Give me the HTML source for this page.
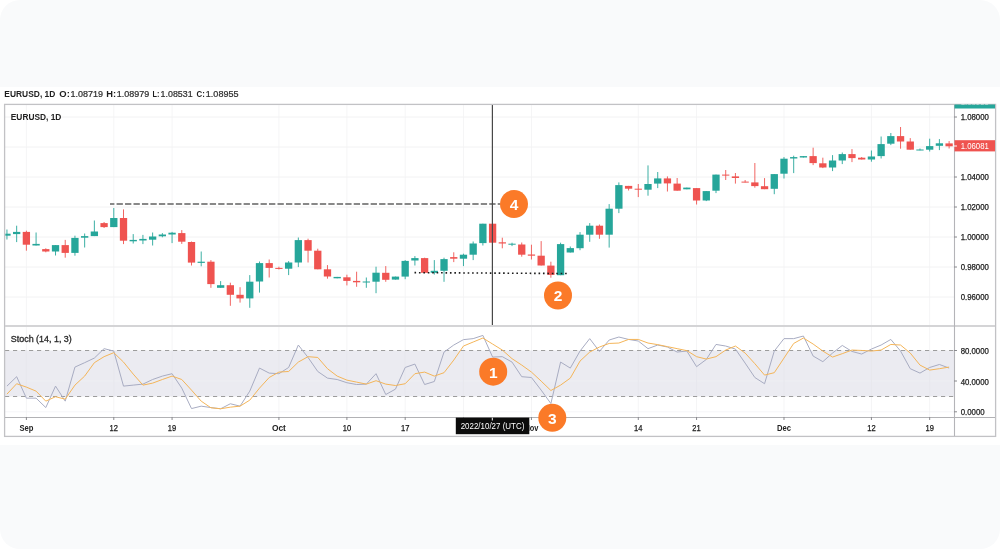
<!DOCTYPE html>
<html><head><meta charset="utf-8"><title>EURUSD Stochastic</title>
<style>
html,body{margin:0;padding:0;background:#fff;}
body{width:1000px;height:549px;overflow:hidden;font-family:"Liberation Sans",sans-serif;}
#bg{position:absolute;left:0;top:0;width:1000px;height:549px;background:#f9fafb;border-radius:20px;}
#band{position:absolute;left:0;top:87px;width:1000px;height:358px;background:#fff;}
svg{position:absolute;left:0;top:0;will-change:transform;}
svg text{font-family:"Liberation Sans",sans-serif;}
</style></head>
<body>
<div id="bg"></div>
<div id="band"></div>
<svg width="1000" height="549" viewBox="0 0 1000 549">
<line x1="26.38" y1="105" x2="26.38" y2="417" stroke="#f5f5f6" stroke-width="1"/>
<line x1="113.79" y1="105" x2="113.79" y2="417" stroke="#f5f5f6" stroke-width="1"/>
<line x1="172.07" y1="105" x2="172.07" y2="417" stroke="#f5f5f6" stroke-width="1"/>
<line x1="278.91" y1="105" x2="278.91" y2="417" stroke="#f5f5f6" stroke-width="1"/>
<line x1="346.90" y1="105" x2="346.90" y2="417" stroke="#f5f5f6" stroke-width="1"/>
<line x1="405.18" y1="105" x2="405.18" y2="417" stroke="#f5f5f6" stroke-width="1"/>
<line x1="463.46" y1="105" x2="463.46" y2="417" stroke="#f5f5f6" stroke-width="1"/>
<line x1="531.45" y1="105" x2="531.45" y2="417" stroke="#f5f5f6" stroke-width="1"/>
<line x1="638.29" y1="105" x2="638.29" y2="417" stroke="#f5f5f6" stroke-width="1"/>
<line x1="696.57" y1="105" x2="696.57" y2="417" stroke="#f5f5f6" stroke-width="1"/>
<line x1="783.99" y1="105" x2="783.99" y2="417" stroke="#f5f5f6" stroke-width="1"/>
<line x1="871.41" y1="105" x2="871.41" y2="417" stroke="#f5f5f6" stroke-width="1"/>
<line x1="929.68" y1="105" x2="929.68" y2="417" stroke="#f5f5f6" stroke-width="1"/>
<line x1="5" y1="117" x2="954" y2="117" stroke="#f2f2f3" stroke-width="1"/>
<line x1="5" y1="147" x2="954" y2="147" stroke="#f2f2f3" stroke-width="1"/>
<line x1="5" y1="177" x2="954" y2="177" stroke="#f2f2f3" stroke-width="1"/>
<line x1="5" y1="207" x2="954" y2="207" stroke="#f2f2f3" stroke-width="1"/>
<line x1="5" y1="237" x2="954" y2="237" stroke="#f2f2f3" stroke-width="1"/>
<line x1="5" y1="267" x2="954" y2="267" stroke="#f2f2f3" stroke-width="1"/>
<line x1="5" y1="297" x2="954" y2="297" stroke="#f2f2f3" stroke-width="1"/>
<rect x="5" y="350.5" width="949" height="46.0" fill="#ebebf1"/>
<line x1="5" y1="381" x2="954" y2="381" stroke="#f0f1f4" stroke-width="1" opacity="0.7"/>
<line x1="5" y1="411.8" x2="954" y2="411.8" stroke="#f0f1f4" stroke-width="1" opacity="0.7"/>
<line x1="26.38" y1="350.5" x2="26.38" y2="396.5" stroke="#e7e7ed" stroke-width="1"/>
<line x1="113.79" y1="350.5" x2="113.79" y2="396.5" stroke="#e7e7ed" stroke-width="1"/>
<line x1="172.07" y1="350.5" x2="172.07" y2="396.5" stroke="#e7e7ed" stroke-width="1"/>
<line x1="278.91" y1="350.5" x2="278.91" y2="396.5" stroke="#e7e7ed" stroke-width="1"/>
<line x1="346.90" y1="350.5" x2="346.90" y2="396.5" stroke="#e7e7ed" stroke-width="1"/>
<line x1="405.18" y1="350.5" x2="405.18" y2="396.5" stroke="#e7e7ed" stroke-width="1"/>
<line x1="463.46" y1="350.5" x2="463.46" y2="396.5" stroke="#e7e7ed" stroke-width="1"/>
<line x1="531.45" y1="350.5" x2="531.45" y2="396.5" stroke="#e7e7ed" stroke-width="1"/>
<line x1="638.29" y1="350.5" x2="638.29" y2="396.5" stroke="#e7e7ed" stroke-width="1"/>
<line x1="696.57" y1="350.5" x2="696.57" y2="396.5" stroke="#e7e7ed" stroke-width="1"/>
<line x1="783.99" y1="350.5" x2="783.99" y2="396.5" stroke="#e7e7ed" stroke-width="1"/>
<line x1="871.41" y1="350.5" x2="871.41" y2="396.5" stroke="#e7e7ed" stroke-width="1"/>
<line x1="929.68" y1="350.5" x2="929.68" y2="396.5" stroke="#e7e7ed" stroke-width="1"/>
<line x1="5" y1="350.5" x2="954" y2="350.5" stroke="#9c9c9c" stroke-width="1" stroke-dasharray="4.2,3.8"/>
<line x1="5" y1="396.5" x2="954" y2="396.5" stroke="#9c9c9c" stroke-width="1" stroke-dasharray="4.2,3.8"/>
<polyline points="6.95,386.12 16.66,376.70 26.38,398.15 36.09,398.15 45.80,407.57 55.52,386.12 65.23,401.15 74.94,367.08 84.65,362.68 94.37,358.07 104.08,348.65 113.79,351.05 123.51,386.12 133.22,385.12 142.93,384.12 152.64,379.51 162.36,376.10 172.07,373.70 181.78,388.13 191.50,408.57 201.21,406.16 210.92,407.57 220.64,408.77 230.35,403.76 240.06,406.16 249.77,391.13 259.49,368.09 269.20,373.10 278.91,373.70 288.63,367.48 298.34,345.04 308.05,357.46 317.77,371.49 327.48,378.11 337.19,379.51 346.90,382.72 356.62,384.52 366.33,384.12 376.04,373.70 385.76,394.54 395.47,389.13 405.18,367.48 414.90,364.08 424.61,384.52 434.32,381.51 444.03,352.05 453.75,345.04 463.46,339.63 473.17,338.63 482.89,335.42 492.60,357.06 502.31,356.66 512.03,362.07 521.74,376.70 531.45,377.51 541.16,390.13 550.88,403.56 560.59,362.07 570.30,368.09 580.02,351.05 589.73,338.63 599.44,351.45 609.16,340.03 618.87,337.02 628.58,339.43 638.29,341.03 648.01,348.65 657.72,345.04 667.43,347.04 677.15,352.05 686.86,351.05 696.57,366.68 706.29,359.47 716.00,344.44 725.71,346.04 735.42,349.05 745.14,363.08 754.85,377.51 764.56,383.72 774.28,351.05 783.99,338.63 793.70,338.63 803.42,336.02 813.13,356.06 822.84,361.67 832.55,353.06 842.27,345.44 851.98,351.45 861.69,354.06 871.41,349.05 881.12,345.04 890.83,339.43 900.55,351.05 910.26,368.69 919.97,373.10 929.68,367.48 939.40,364.48 949.11,368.09" fill="none" stroke="#a8acc2" stroke-width="1" stroke-linejoin="round"/>
<polyline points="6.95,394.14 16.66,383.72 26.38,387.12 36.09,391.13 45.80,401.15 55.52,396.74 65.23,399.15 74.94,385.12 84.65,376.10 94.37,362.68 104.08,356.66 113.79,352.66 123.51,362.07 133.22,374.10 142.93,385.12 152.64,383.12 162.36,379.51 172.07,376.10 181.78,379.51 191.50,390.13 201.21,401.15 210.92,407.77 220.64,408.77 230.35,407.16 240.06,406.16 249.77,400.15 259.49,388.13 269.20,377.51 278.91,372.09 288.63,371.49 298.34,362.07 308.05,356.66 317.77,357.46 327.48,368.69 337.19,376.10 346.90,380.11 356.62,382.11 366.33,384.12 376.04,380.71 385.76,384.12 395.47,385.52 405.18,383.72 414.90,373.70 424.61,372.09 434.32,376.10 444.03,372.70 453.75,360.07 463.46,346.04 473.17,342.03 482.89,338.03 492.60,344.04 502.31,350.05 512.03,358.67 521.74,365.08 531.45,372.09 541.16,381.11 550.88,390.53 560.59,385.12 570.30,378.11 580.02,361.07 589.73,352.05 599.44,347.04 609.16,343.44 618.87,343.04 628.58,339.43 638.29,339.43 648.01,343.04 657.72,344.64 667.43,346.64 677.15,348.65 686.86,350.65 696.57,356.66 706.29,359.07 716.00,356.66 725.71,350.05 735.42,346.04 745.14,353.06 754.85,363.68 764.56,375.10 774.28,372.70 783.99,358.07 793.70,343.44 803.42,338.03 813.13,344.04 822.84,351.05 832.55,357.06 842.27,353.66 851.98,350.05 861.69,350.45 871.41,351.05 881.12,350.05 890.83,344.44 900.55,345.04 910.26,353.06 919.97,365.08 929.68,370.09 939.40,368.69 949.11,367.08" fill="none" stroke="#f4b559" stroke-width="1" stroke-linejoin="round"/>
<clipPath id="cc"><rect x="5.2" y="105" width="949" height="220"/></clipPath><g clip-path="url(#cc)">
<line x1="6.95" y1="229.5" x2="6.95" y2="239.5" stroke="#26a69a" stroke-width="0.9"/>
<rect x="3.30" y="233.7" width="7.3" height="2.0" fill="#26a69a"/>
<line x1="16.66" y1="225.7" x2="16.66" y2="242.1" stroke="#26a69a" stroke-width="0.9"/>
<rect x="13.01" y="231.9" width="7.3" height="2.2" fill="#26a69a"/>
<line x1="26.38" y1="230.7" x2="26.38" y2="250.7" stroke="#ef5350" stroke-width="0.9"/>
<rect x="22.73" y="231.9" width="7.3" height="12.8" fill="#ef5350"/>
<line x1="36.09" y1="232.5" x2="36.09" y2="245.5" stroke="#26a69a" stroke-width="0.9"/>
<rect x="32.44" y="243.9" width="7.3" height="1.6" fill="#26a69a"/>
<line x1="45.80" y1="248.3" x2="45.80" y2="252.3" stroke="#ef5350" stroke-width="0.9"/>
<rect x="42.15" y="249.1" width="7.3" height="2.4" fill="#ef5350"/>
<line x1="55.52" y1="245.1" x2="55.52" y2="255.5" stroke="#26a69a" stroke-width="0.9"/>
<rect x="51.87" y="245.1" width="7.3" height="6.4" fill="#26a69a"/>
<line x1="65.23" y1="239.9" x2="65.23" y2="257.7" stroke="#ef5350" stroke-width="0.9"/>
<rect x="61.58" y="245.1" width="7.3" height="7.8" fill="#ef5350"/>
<line x1="74.94" y1="235.7" x2="74.94" y2="255.7" stroke="#26a69a" stroke-width="0.9"/>
<rect x="71.29" y="237.9" width="7.3" height="15.0" fill="#26a69a"/>
<line x1="84.65" y1="233.5" x2="84.65" y2="247.5" stroke="#26a69a" stroke-width="0.9"/>
<rect x="81.00" y="236.1" width="7.3" height="1.6" fill="#26a69a"/>
<line x1="94.37" y1="220.5" x2="94.37" y2="236.1" stroke="#26a69a" stroke-width="0.9"/>
<rect x="90.72" y="231.5" width="7.3" height="4.6" fill="#26a69a"/>
<line x1="104.08" y1="222" x2="104.08" y2="228" stroke="#ef5350" stroke-width="0.9"/>
<rect x="100.43" y="223.1" width="7.3" height="4.0" fill="#ef5350"/>
<line x1="113.79" y1="208" x2="113.79" y2="227.1" stroke="#26a69a" stroke-width="0.9"/>
<rect x="110.14" y="218" width="7.3" height="9.1" fill="#26a69a"/>
<line x1="123.51" y1="209.4" x2="123.51" y2="244.1" stroke="#ef5350" stroke-width="0.9"/>
<rect x="119.86" y="218" width="7.3" height="22.7" fill="#ef5350"/>
<line x1="133.22" y1="234.1" x2="133.22" y2="243.5" stroke="#26a69a" stroke-width="0.9"/>
<rect x="129.57" y="239.9" width="7.3" height="1.4" fill="#26a69a"/>
<line x1="142.93" y1="234.9" x2="142.93" y2="244.1" stroke="#26a69a" stroke-width="0.9"/>
<rect x="139.28" y="238.9" width="7.3" height="1.6" fill="#26a69a"/>
<line x1="152.64" y1="232.5" x2="152.64" y2="245.5" stroke="#26a69a" stroke-width="0.9"/>
<rect x="148.99" y="236.5" width="7.3" height="3.2" fill="#26a69a"/>
<line x1="162.36" y1="233.1" x2="162.36" y2="237.3" stroke="#26a69a" stroke-width="0.9"/>
<rect x="158.71" y="234.5" width="7.3" height="1.8" fill="#26a69a"/>
<line x1="172.07" y1="231.9" x2="172.07" y2="243.1" stroke="#26a69a" stroke-width="0.9"/>
<rect x="168.42" y="232.7" width="7.3" height="1.8" fill="#26a69a"/>
<line x1="181.78" y1="230.1" x2="181.78" y2="243.9" stroke="#ef5350" stroke-width="0.9"/>
<rect x="178.13" y="233.1" width="7.3" height="8.6" fill="#ef5350"/>
<line x1="191.50" y1="241.5" x2="191.50" y2="265.5" stroke="#ef5350" stroke-width="0.9"/>
<rect x="187.85" y="242.0" width="7.3" height="20.6" fill="#ef5350"/>
<line x1="201.21" y1="251.5" x2="201.21" y2="266.3" stroke="#26a69a" stroke-width="0.9"/>
<rect x="197.56" y="261.7" width="7.3" height="1.2" fill="#26a69a"/>
<line x1="210.92" y1="260.1" x2="210.92" y2="287.8" stroke="#ef5350" stroke-width="0.9"/>
<rect x="207.27" y="261.7" width="7.3" height="22.4" fill="#ef5350"/>
<line x1="220.64" y1="281.1" x2="220.64" y2="287.8" stroke="#26a69a" stroke-width="0.9"/>
<rect x="216.99" y="285.2" width="7.3" height="2.6" fill="#26a69a"/>
<line x1="230.35" y1="282.7" x2="230.35" y2="305.8" stroke="#ef5350" stroke-width="0.9"/>
<rect x="226.70" y="285.2" width="7.3" height="9.6" fill="#ef5350"/>
<line x1="240.06" y1="287.2" x2="240.06" y2="302.6" stroke="#ef5350" stroke-width="0.9"/>
<rect x="236.41" y="294.8" width="7.3" height="3.6" fill="#ef5350"/>
<line x1="249.77" y1="275.1" x2="249.77" y2="307.8" stroke="#26a69a" stroke-width="0.9"/>
<rect x="246.12" y="281.7" width="7.3" height="16.7" fill="#26a69a"/>
<line x1="259.49" y1="261.5" x2="259.49" y2="292.6" stroke="#26a69a" stroke-width="0.9"/>
<rect x="255.84" y="263.1" width="7.3" height="18.4" fill="#26a69a"/>
<line x1="269.20" y1="259.5" x2="269.20" y2="277.5" stroke="#ef5350" stroke-width="0.9"/>
<rect x="265.55" y="263.1" width="7.3" height="4.8" fill="#ef5350"/>
<line x1="278.91" y1="266.7" x2="278.91" y2="269.5" stroke="#ef5350" stroke-width="0.9"/>
<rect x="275.26" y="267.9" width="7.3" height="1.0" fill="#ef5350"/>
<line x1="288.63" y1="261.1" x2="288.63" y2="275.1" stroke="#26a69a" stroke-width="0.9"/>
<rect x="284.98" y="262.5" width="7.3" height="6.2" fill="#26a69a"/>
<line x1="298.34" y1="237.5" x2="298.34" y2="267.1" stroke="#26a69a" stroke-width="0.9"/>
<rect x="294.69" y="240.1" width="7.3" height="22.4" fill="#26a69a"/>
<line x1="308.05" y1="238.7" x2="308.05" y2="262.5" stroke="#ef5350" stroke-width="0.9"/>
<rect x="304.40" y="240.1" width="7.3" height="10.6" fill="#ef5350"/>
<line x1="317.77" y1="248.7" x2="317.77" y2="269.3" stroke="#ef5350" stroke-width="0.9"/>
<rect x="314.12" y="250.7" width="7.3" height="18.6" fill="#ef5350"/>
<line x1="327.48" y1="265.1" x2="327.48" y2="278.7" stroke="#ef5350" stroke-width="0.9"/>
<rect x="323.83" y="269.3" width="7.3" height="7.2" fill="#ef5350"/>
<line x1="337.19" y1="276.9" x2="337.19" y2="278.3" stroke="#26a69a" stroke-width="0.9"/>
<rect x="333.54" y="276.9" width="7.3" height="1.4" fill="#26a69a"/>
<line x1="346.90" y1="274.7" x2="346.90" y2="285.4" stroke="#ef5350" stroke-width="0.9"/>
<rect x="343.25" y="277.3" width="7.3" height="3.6" fill="#ef5350"/>
<line x1="356.62" y1="271.7" x2="356.62" y2="286.8" stroke="#ef5350" stroke-width="0.9"/>
<rect x="352.97" y="280.9" width="7.3" height="1.4" fill="#ef5350"/>
<line x1="366.33" y1="277.5" x2="366.33" y2="287.8" stroke="#26a69a" stroke-width="0.9"/>
<rect x="362.68" y="281.5" width="7.3" height="1.0" fill="#26a69a"/>
<line x1="376.04" y1="266.7" x2="376.04" y2="293.2" stroke="#26a69a" stroke-width="0.9"/>
<rect x="372.39" y="272.7" width="7.3" height="9.0" fill="#26a69a"/>
<line x1="385.76" y1="266.1" x2="385.76" y2="281.8" stroke="#ef5350" stroke-width="0.9"/>
<rect x="382.11" y="272.8" width="7.3" height="7.0" fill="#ef5350"/>
<line x1="395.47" y1="276.6" x2="395.47" y2="279.6" stroke="#26a69a" stroke-width="0.9"/>
<rect x="391.82" y="276.6" width="7.3" height="3.0" fill="#26a69a"/>
<line x1="405.18" y1="260.1" x2="405.18" y2="279.2" stroke="#26a69a" stroke-width="0.9"/>
<rect x="401.53" y="260.9" width="7.3" height="15.7" fill="#26a69a"/>
<line x1="414.90" y1="256.1" x2="414.90" y2="265.5" stroke="#26a69a" stroke-width="0.9"/>
<rect x="411.25" y="258.1" width="7.3" height="2.4" fill="#26a69a"/>
<line x1="424.61" y1="257.7" x2="424.61" y2="273.2" stroke="#ef5350" stroke-width="0.9"/>
<rect x="420.96" y="258.1" width="7.3" height="14.7" fill="#ef5350"/>
<line x1="434.32" y1="260.1" x2="434.32" y2="274.6" stroke="#26a69a" stroke-width="0.9"/>
<rect x="430.67" y="270.8" width="7.3" height="2.0" fill="#26a69a"/>
<line x1="444.03" y1="257.7" x2="444.03" y2="281.8" stroke="#26a69a" stroke-width="0.9"/>
<rect x="440.38" y="259.1" width="7.3" height="11.7" fill="#26a69a"/>
<line x1="453.75" y1="252.3" x2="453.75" y2="262.1" stroke="#ef5350" stroke-width="0.9"/>
<rect x="450.10" y="257.1" width="7.3" height="1.6" fill="#ef5350"/>
<line x1="463.46" y1="253.7" x2="463.46" y2="266.1" stroke="#26a69a" stroke-width="0.9"/>
<rect x="459.81" y="254.7" width="7.3" height="4.0" fill="#26a69a"/>
<line x1="473.17" y1="241.5" x2="473.17" y2="260.1" stroke="#26a69a" stroke-width="0.9"/>
<rect x="469.52" y="243.5" width="7.3" height="11.2" fill="#26a69a"/>
<line x1="482.89" y1="223.7" x2="482.89" y2="245.5" stroke="#26a69a" stroke-width="0.9"/>
<rect x="479.24" y="223.7" width="7.3" height="19.4" fill="#26a69a"/>
<line x1="492.60" y1="223.7" x2="492.60" y2="243.1" stroke="#ef5350" stroke-width="0.9"/>
<rect x="488.95" y="223.7" width="7.3" height="19.0" fill="#ef5350"/>
<line x1="502.31" y1="237.7" x2="502.31" y2="248.3" stroke="#ef5350" stroke-width="0.9"/>
<rect x="498.66" y="242.3" width="7.3" height="1.2" fill="#ef5350"/>
<line x1="512.03" y1="242.7" x2="512.03" y2="246.1" stroke="#26a69a" stroke-width="0.9"/>
<rect x="508.38" y="243.7" width="7.3" height="1.0" fill="#26a69a"/>
<line x1="521.74" y1="242.5" x2="521.74" y2="256.7" stroke="#ef5350" stroke-width="0.9"/>
<rect x="518.09" y="244.5" width="7.3" height="10.2" fill="#ef5350"/>
<line x1="531.45" y1="244.7" x2="531.45" y2="259.5" stroke="#ef5350" stroke-width="0.9"/>
<rect x="527.80" y="254.5" width="7.3" height="1.2" fill="#ef5350"/>
<line x1="541.16" y1="241.1" x2="541.16" y2="265.5" stroke="#ef5350" stroke-width="0.9"/>
<rect x="537.51" y="255.7" width="7.3" height="9.8" fill="#ef5350"/>
<line x1="550.88" y1="261.7" x2="550.88" y2="277.7" stroke="#ef5350" stroke-width="0.9"/>
<rect x="547.23" y="265.6" width="7.3" height="9.3" fill="#ef5350"/>
<line x1="560.59" y1="242.7" x2="560.59" y2="275.2" stroke="#26a69a" stroke-width="0.9"/>
<rect x="556.94" y="244.1" width="7.3" height="31.1" fill="#26a69a"/>
<line x1="570.30" y1="246.5" x2="570.30" y2="252.5" stroke="#26a69a" stroke-width="0.9"/>
<rect x="566.65" y="248.1" width="7.3" height="4.4" fill="#26a69a"/>
<line x1="580.02" y1="232.1" x2="580.02" y2="250.2" stroke="#26a69a" stroke-width="0.9"/>
<rect x="576.37" y="234.7" width="7.3" height="13.5" fill="#26a69a"/>
<line x1="589.73" y1="223.1" x2="589.73" y2="241.8" stroke="#26a69a" stroke-width="0.9"/>
<rect x="586.08" y="225.7" width="7.3" height="9.0" fill="#26a69a"/>
<line x1="599.44" y1="224.5" x2="599.44" y2="238.8" stroke="#ef5350" stroke-width="0.9"/>
<rect x="595.79" y="225.7" width="7.3" height="9.0" fill="#ef5350"/>
<line x1="609.16" y1="204.1" x2="609.16" y2="247.6" stroke="#26a69a" stroke-width="0.9"/>
<rect x="605.51" y="208.7" width="7.3" height="26.0" fill="#26a69a"/>
<line x1="618.87" y1="182.4" x2="618.87" y2="213.1" stroke="#26a69a" stroke-width="0.9"/>
<rect x="615.22" y="185.1" width="7.3" height="23.6" fill="#26a69a"/>
<line x1="628.58" y1="185.9" x2="628.58" y2="190.5" stroke="#ef5350" stroke-width="0.9"/>
<rect x="624.93" y="185.9" width="7.3" height="2.8" fill="#ef5350"/>
<line x1="638.29" y1="184" x2="638.29" y2="197.1" stroke="#ef5350" stroke-width="0.9"/>
<rect x="634.64" y="188.7" width="7.3" height="1.0" fill="#ef5350"/>
<line x1="648.01" y1="165.4" x2="648.01" y2="195.7" stroke="#26a69a" stroke-width="0.9"/>
<rect x="644.36" y="184" width="7.3" height="5.7" fill="#26a69a"/>
<line x1="657.72" y1="172" x2="657.72" y2="188.1" stroke="#26a69a" stroke-width="0.9"/>
<rect x="654.07" y="178.4" width="7.3" height="5.2" fill="#26a69a"/>
<line x1="667.43" y1="176.4" x2="667.43" y2="191.5" stroke="#ef5350" stroke-width="0.9"/>
<rect x="663.78" y="178.4" width="7.3" height="5.0" fill="#ef5350"/>
<line x1="677.15" y1="178" x2="677.15" y2="190.7" stroke="#ef5350" stroke-width="0.9"/>
<rect x="673.50" y="183.6" width="7.3" height="7.1" fill="#ef5350"/>
<line x1="686.86" y1="187.6" x2="686.86" y2="189.3" stroke="#26a69a" stroke-width="0.9"/>
<rect x="683.21" y="187.6" width="7.3" height="1.7" fill="#26a69a"/>
<line x1="696.57" y1="188.1" x2="696.57" y2="204.5" stroke="#ef5350" stroke-width="0.9"/>
<rect x="692.92" y="188.1" width="7.3" height="12.4" fill="#ef5350"/>
<line x1="706.29" y1="191.1" x2="706.29" y2="201.1" stroke="#26a69a" stroke-width="0.9"/>
<rect x="702.64" y="191.1" width="7.3" height="9.4" fill="#26a69a"/>
<line x1="716.00" y1="174.6" x2="716.00" y2="193.1" stroke="#26a69a" stroke-width="0.9"/>
<rect x="712.35" y="174.6" width="7.3" height="16.1" fill="#26a69a"/>
<line x1="725.71" y1="170" x2="725.71" y2="180" stroke="#ef5350" stroke-width="0.9"/>
<rect x="722.06" y="174.6" width="7.3" height="1.0" fill="#ef5350"/>
<line x1="735.42" y1="173" x2="735.42" y2="183.6" stroke="#ef5350" stroke-width="0.9"/>
<rect x="731.77" y="176.4" width="7.3" height="1.6" fill="#ef5350"/>
<line x1="745.14" y1="180" x2="745.14" y2="182.4" stroke="#ef5350" stroke-width="0.9"/>
<rect x="741.49" y="181.6" width="7.3" height="1.0" fill="#ef5350"/>
<line x1="754.85" y1="163" x2="754.85" y2="187.7" stroke="#ef5350" stroke-width="0.9"/>
<rect x="751.20" y="182.4" width="7.3" height="3.7" fill="#ef5350"/>
<line x1="764.56" y1="178.1" x2="764.56" y2="189.2" stroke="#ef5350" stroke-width="0.9"/>
<rect x="760.91" y="186.2" width="7.3" height="3.0" fill="#ef5350"/>
<line x1="774.28" y1="174.1" x2="774.28" y2="194.2" stroke="#26a69a" stroke-width="0.9"/>
<rect x="770.63" y="174.1" width="7.3" height="14.7" fill="#26a69a"/>
<line x1="783.99" y1="157.1" x2="783.99" y2="178.5" stroke="#26a69a" stroke-width="0.9"/>
<rect x="780.34" y="158.7" width="7.3" height="15.0" fill="#26a69a"/>
<line x1="793.70" y1="155.7" x2="793.70" y2="173.1" stroke="#26a69a" stroke-width="0.9"/>
<rect x="790.05" y="157.1" width="7.3" height="1.4" fill="#26a69a"/>
<line x1="803.42" y1="156.1" x2="803.42" y2="157.5" stroke="#26a69a" stroke-width="0.9"/>
<rect x="799.77" y="156.1" width="7.3" height="1.4" fill="#26a69a"/>
<line x1="813.13" y1="147.7" x2="813.13" y2="165.1" stroke="#ef5350" stroke-width="0.9"/>
<rect x="809.48" y="156.1" width="7.3" height="7.0" fill="#ef5350"/>
<line x1="822.84" y1="157.7" x2="822.84" y2="168.1" stroke="#ef5350" stroke-width="0.9"/>
<rect x="819.19" y="163.3" width="7.3" height="4.2" fill="#ef5350"/>
<line x1="832.55" y1="155.1" x2="832.55" y2="171.1" stroke="#26a69a" stroke-width="0.9"/>
<rect x="828.90" y="160.5" width="7.3" height="7.0" fill="#26a69a"/>
<line x1="842.27" y1="152.5" x2="842.27" y2="164.1" stroke="#26a69a" stroke-width="0.9"/>
<rect x="838.62" y="154.1" width="7.3" height="6.4" fill="#26a69a"/>
<line x1="851.98" y1="149.1" x2="851.98" y2="162.1" stroke="#ef5350" stroke-width="0.9"/>
<rect x="848.33" y="154.1" width="7.3" height="4.0" fill="#ef5350"/>
<line x1="861.69" y1="157.0" x2="861.69" y2="159.5" stroke="#ef5350" stroke-width="0.9"/>
<rect x="858.04" y="157.7" width="7.3" height="1.8" fill="#ef5350"/>
<line x1="871.41" y1="150.5" x2="871.41" y2="161.7" stroke="#26a69a" stroke-width="0.9"/>
<rect x="867.76" y="156.5" width="7.3" height="3.0" fill="#26a69a"/>
<line x1="881.12" y1="136.5" x2="881.12" y2="158.5" stroke="#26a69a" stroke-width="0.9"/>
<rect x="877.47" y="144.1" width="7.3" height="12.0" fill="#26a69a"/>
<line x1="890.83" y1="133" x2="890.83" y2="145.1" stroke="#26a69a" stroke-width="0.9"/>
<rect x="887.18" y="136.1" width="7.3" height="7.6" fill="#26a69a"/>
<line x1="900.55" y1="127" x2="900.55" y2="148.7" stroke="#ef5350" stroke-width="0.9"/>
<rect x="896.90" y="136.1" width="7.3" height="5.4" fill="#ef5350"/>
<line x1="910.26" y1="138.1" x2="910.26" y2="149.7" stroke="#ef5350" stroke-width="0.9"/>
<rect x="906.61" y="141.5" width="7.3" height="8.2" fill="#ef5350"/>
<line x1="919.97" y1="148.5" x2="919.97" y2="150.3" stroke="#26a69a" stroke-width="0.9"/>
<rect x="916.32" y="149.5" width="7.3" height="1.0" fill="#26a69a"/>
<line x1="929.68" y1="138.7" x2="929.68" y2="151.5" stroke="#26a69a" stroke-width="0.9"/>
<rect x="926.03" y="146.1" width="7.3" height="3.6" fill="#26a69a"/>
<line x1="939.40" y1="139.1" x2="939.40" y2="150.1" stroke="#26a69a" stroke-width="0.9"/>
<rect x="935.75" y="143.3" width="7.3" height="2.5" fill="#26a69a"/>
<line x1="949.11" y1="141.1" x2="949.11" y2="148.5" stroke="#ef5350" stroke-width="0.9"/>
<rect x="945.46" y="143.4" width="7.3" height="2.9" fill="#ef5350"/>
</g>
<line x1="110" y1="204" x2="500" y2="204" stroke="#888" stroke-width="2" stroke-dasharray="6.3,2.17" stroke-dashoffset="1.9"/>
<line x1="414.5" y1="272.65" x2="569.2" y2="273.55" stroke="#1c1c1c" stroke-width="1.6" stroke-dasharray="1.6,2.83"/>
<line x1="492.4" y1="105" x2="492.4" y2="326.5" stroke="#484848" stroke-width="1.2"/>
<rect x="4.6" y="104.4" width="991" height="332" fill="none" stroke="#c2c2c5" stroke-width="1.3"/>
<rect x="5" y="325" width="990" height="2" fill="#d4d4d6"/>
<line x1="954.5" y1="105" x2="954.5" y2="436" stroke="#b4b4b8" stroke-width="1.1"/>
<line x1="5" y1="417.5" x2="995" y2="417.5" stroke="#b2b2b5" stroke-width="1"/>
<line x1="26.38" y1="417" x2="26.38" y2="420" stroke="#8a8a8e" stroke-width="1"/>
<line x1="113.79" y1="417" x2="113.79" y2="420" stroke="#8a8a8e" stroke-width="1"/>
<line x1="172.07" y1="417" x2="172.07" y2="420" stroke="#8a8a8e" stroke-width="1"/>
<line x1="278.91" y1="417" x2="278.91" y2="420" stroke="#8a8a8e" stroke-width="1"/>
<line x1="346.90" y1="417" x2="346.90" y2="420" stroke="#8a8a8e" stroke-width="1"/>
<line x1="405.18" y1="417" x2="405.18" y2="420" stroke="#8a8a8e" stroke-width="1"/>
<line x1="463.46" y1="417" x2="463.46" y2="420" stroke="#8a8a8e" stroke-width="1"/>
<line x1="531.45" y1="417" x2="531.45" y2="420" stroke="#8a8a8e" stroke-width="1"/>
<line x1="638.29" y1="417" x2="638.29" y2="420" stroke="#8a8a8e" stroke-width="1"/>
<line x1="696.57" y1="417" x2="696.57" y2="420" stroke="#8a8a8e" stroke-width="1"/>
<line x1="783.99" y1="417" x2="783.99" y2="420" stroke="#8a8a8e" stroke-width="1"/>
<line x1="871.41" y1="417" x2="871.41" y2="420" stroke="#8a8a8e" stroke-width="1"/>
<line x1="929.68" y1="417" x2="929.68" y2="420" stroke="#8a8a8e" stroke-width="1"/>
<line x1="492.60" y1="417" x2="492.60" y2="420" stroke="#8a8a8e" stroke-width="1"/>
<line x1="954" y1="117" x2="957" y2="117" stroke="#8a8a8e" stroke-width="1"/>
<line x1="954" y1="177" x2="957" y2="177" stroke="#8a8a8e" stroke-width="1"/>
<line x1="954" y1="207" x2="957" y2="207" stroke="#8a8a8e" stroke-width="1"/>
<line x1="954" y1="237" x2="957" y2="237" stroke="#8a8a8e" stroke-width="1"/>
<line x1="954" y1="267" x2="957" y2="267" stroke="#8a8a8e" stroke-width="1"/>
<line x1="954" y1="350.5" x2="957" y2="350.5" stroke="#8a8a8e" stroke-width="1"/>
<line x1="954" y1="381" x2="957" y2="381" stroke="#8a8a8e" stroke-width="1"/>
<line x1="954" y1="411.8" x2="957" y2="411.8" stroke="#8a8a8e" stroke-width="1"/>
<text x="960.7" y="119.9" font-size="8.3" font-weight="normal" fill="#222" text-anchor="start" textLength="28.2" lengthAdjust="spacingAndGlyphs" stroke="#222" stroke-width="0.25">1.08000</text>
<text x="960.7" y="179.9" font-size="8.3" font-weight="normal" fill="#222" text-anchor="start" textLength="28.2" lengthAdjust="spacingAndGlyphs" stroke="#222" stroke-width="0.25">1.04000</text>
<text x="960.7" y="209.9" font-size="8.3" font-weight="normal" fill="#222" text-anchor="start" textLength="28.2" lengthAdjust="spacingAndGlyphs" stroke="#222" stroke-width="0.25">1.02000</text>
<text x="960.7" y="239.9" font-size="8.3" font-weight="normal" fill="#222" text-anchor="start" textLength="28.2" lengthAdjust="spacingAndGlyphs" stroke="#222" stroke-width="0.25">1.00000</text>
<text x="960.7" y="269.9" font-size="8.3" font-weight="normal" fill="#222" text-anchor="start" textLength="28.2" lengthAdjust="spacingAndGlyphs" stroke="#222" stroke-width="0.25">0.98000</text>
<text x="960.7" y="299.9" font-size="8.3" font-weight="normal" fill="#222" text-anchor="start" textLength="28.2" lengthAdjust="spacingAndGlyphs" stroke="#222" stroke-width="0.25">0.96000</text>
<text x="960.7" y="354.0" font-size="8.3" font-weight="normal" fill="#222" text-anchor="start" textLength="28.2" lengthAdjust="spacingAndGlyphs" stroke="#222" stroke-width="0.25">80.0000</text>
<text x="960.7" y="384.5" font-size="8.3" font-weight="normal" fill="#222" text-anchor="start" textLength="28.2" lengthAdjust="spacingAndGlyphs" stroke="#222" stroke-width="0.25">40.0000</text>
<text x="960.7" y="415.3" font-size="8.3" font-weight="normal" fill="#222" text-anchor="start" textLength="24" lengthAdjust="spacingAndGlyphs" stroke="#222" stroke-width="0.25">0.0000</text>
<rect x="954.5" y="104.5" width="40.5" height="4" fill="#26a69a"/>
<clipPath id="tc"><rect x="954.5" y="104.5" width="41" height="5"/></clipPath>
<text x="960.7" y="105.3" font-size="8.3" font-weight="normal" fill="#fff" text-anchor="start" clip-path="url(#tc)" textLength="28.2" lengthAdjust="spacingAndGlyphs">1.08955</text>
<rect x="954.5" y="140.2" width="40.5" height="11.2" fill="#ef5350"/>
<line x1="954" y1="146" x2="957" y2="146" stroke="#fff" stroke-width="1"/>
<text x="960.7" y="148.8" font-size="8.3" font-weight="normal" fill="#fff" text-anchor="start" textLength="28.2" lengthAdjust="spacingAndGlyphs">1.06081</text>
<text x="26.38" y="430.6" font-size="8.3" font-weight="bold" fill="#222" text-anchor="middle" textLength="14" lengthAdjust="spacingAndGlyphs">Sep</text>
<text x="113.79" y="430.6" font-size="8.2" font-weight="normal" fill="#1a1a1a" text-anchor="middle" textLength="8.4" lengthAdjust="spacingAndGlyphs" stroke="#1a1a1a" stroke-width="0.25">12</text>
<text x="172.07" y="430.6" font-size="8.2" font-weight="normal" fill="#1a1a1a" text-anchor="middle" textLength="8.4" lengthAdjust="spacingAndGlyphs" stroke="#1a1a1a" stroke-width="0.25">19</text>
<text x="278.91" y="430.6" font-size="8.3" font-weight="bold" fill="#222" text-anchor="middle" textLength="14" lengthAdjust="spacingAndGlyphs">Oct</text>
<text x="346.90" y="430.6" font-size="8.2" font-weight="normal" fill="#1a1a1a" text-anchor="middle" textLength="8.4" lengthAdjust="spacingAndGlyphs" stroke="#1a1a1a" stroke-width="0.25">10</text>
<text x="405.18" y="430.6" font-size="8.2" font-weight="normal" fill="#1a1a1a" text-anchor="middle" textLength="8.4" lengthAdjust="spacingAndGlyphs" stroke="#1a1a1a" stroke-width="0.25">17</text>
<text x="531.45" y="430.6" font-size="8.3" font-weight="bold" fill="#222" text-anchor="middle" textLength="14" lengthAdjust="spacingAndGlyphs">Nov</text>
<text x="638.29" y="430.6" font-size="8.2" font-weight="normal" fill="#1a1a1a" text-anchor="middle" textLength="8.4" lengthAdjust="spacingAndGlyphs" stroke="#1a1a1a" stroke-width="0.25">14</text>
<text x="696.57" y="430.6" font-size="8.2" font-weight="normal" fill="#1a1a1a" text-anchor="middle" textLength="8.4" lengthAdjust="spacingAndGlyphs" stroke="#1a1a1a" stroke-width="0.25">21</text>
<text x="783.99" y="430.6" font-size="8.3" font-weight="bold" fill="#222" text-anchor="middle" textLength="14" lengthAdjust="spacingAndGlyphs">Dec</text>
<text x="871.41" y="430.6" font-size="8.2" font-weight="normal" fill="#1a1a1a" text-anchor="middle" textLength="8.4" lengthAdjust="spacingAndGlyphs" stroke="#1a1a1a" stroke-width="0.25">12</text>
<text x="929.68" y="430.6" font-size="8.2" font-weight="normal" fill="#1a1a1a" text-anchor="middle" textLength="8.4" lengthAdjust="spacingAndGlyphs" stroke="#1a1a1a" stroke-width="0.25">19</text>
<rect x="455.8" y="417.6" width="73.5" height="16.6" fill="#0c0c0c"/>
<text x="492.5" y="429.2" font-size="8.5" font-weight="normal" fill="#fff" text-anchor="middle" textLength="63.6" lengthAdjust="spacingAndGlyphs">2022/10/27 (UTC)</text>
<line x1="492.3" y1="417.6" x2="492.3" y2="420.5" stroke="#fff" stroke-width="1"/>
<text x="10.8" y="119.7" font-size="8.4" font-weight="bold" fill="#222" text-anchor="start" textLength="50.6" lengthAdjust="spacingAndGlyphs">EURUSD, 1D</text>
<text x="10.8" y="341.5" font-size="8.4" font-weight="normal" fill="#2a2a2a" text-anchor="start" textLength="61" lengthAdjust="spacingAndGlyphs" stroke="#2a2a2a" stroke-width="0.3">Stoch (14, 1, 3)</text>
<text x="4.35" y="97.1" font-size="8.4" font-weight="bold" fill="#1e1e1e" text-anchor="start" textLength="51.0" lengthAdjust="spacingAndGlyphs">EURUSD, 1D</text>
<text x="59.35" y="97.1" font-size="8.4" font-weight="bold" fill="#1e1e1e" text-anchor="start" textLength="10.5" lengthAdjust="spacingAndGlyphs">O:</text>
<text x="70.6" y="97.1" font-size="8.4" font-weight="normal" fill="#2e2e2e" text-anchor="start" textLength="32.5" lengthAdjust="spacingAndGlyphs" stroke="#2e2e2e" stroke-width="0.22">1.08719</text>
<text x="106.19999999999999" y="97.1" font-size="8.4" font-weight="bold" fill="#1e1e1e" text-anchor="start" textLength="9.8" lengthAdjust="spacingAndGlyphs">H:</text>
<text x="116.85" y="97.1" font-size="8.4" font-weight="normal" fill="#2e2e2e" text-anchor="start" textLength="32.3" lengthAdjust="spacingAndGlyphs" stroke="#2e2e2e" stroke-width="0.22">1.08979</text>
<text x="152.5" y="97.1" font-size="8.4" font-weight="bold" fill="#1e1e1e" text-anchor="start" textLength="6.9" lengthAdjust="spacingAndGlyphs">L:</text>
<text x="160.6" y="97.1" font-size="8.4" font-weight="normal" fill="#2e2e2e" text-anchor="start" textLength="32.0" lengthAdjust="spacingAndGlyphs" stroke="#2e2e2e" stroke-width="0.22">1.08531</text>
<text x="196.5" y="97.1" font-size="8.4" font-weight="bold" fill="#1e1e1e" text-anchor="start" textLength="8.3" lengthAdjust="spacingAndGlyphs">C:</text>
<text x="205.85" y="97.1" font-size="8.4" font-weight="normal" fill="#2e2e2e" text-anchor="start" textLength="32.6" lengthAdjust="spacingAndGlyphs" stroke="#2e2e2e" stroke-width="0.22">1.08955</text>
<circle cx="514" cy="204.1" r="14" fill="#fb7a28"/>
<text x="514" y="210.0" font-size="15.5" font-weight="bold" fill="#fff" text-anchor="middle">4</text>
<circle cx="558" cy="295.5" r="14" fill="#fb7a28"/>
<text x="558" y="301.4" font-size="15.5" font-weight="bold" fill="#fff" text-anchor="middle">2</text>
<circle cx="493.2" cy="371.7" r="14" fill="#fb7a28"/>
<text x="493.2" y="377.6" font-size="15.5" font-weight="bold" fill="#fff" text-anchor="middle">1</text>
<circle cx="552.3" cy="417.8" r="14" fill="#fb7a28"/>
<text x="552.3" y="423.7" font-size="15.5" font-weight="bold" fill="#fff" text-anchor="middle">3</text>
</svg>
</body></html>
